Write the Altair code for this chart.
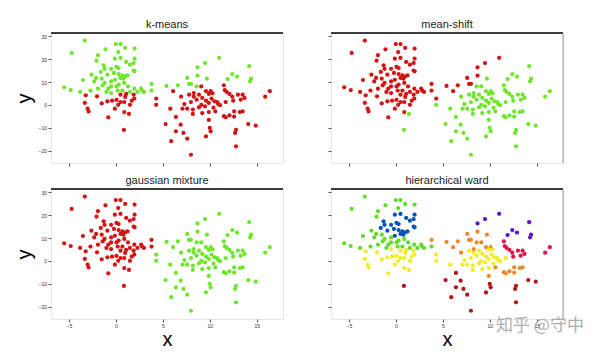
import altair as alt
import pandas as pd

# ---- points of the left blob ----
left_x = [-3.3, -4.7, 0.0, 0.5, 1.0, 2.0, -1.1, 0.25, -1.9, -2.05,
          -0.1, 0.5, 1.1, 2.0, 1.9, -1.3, -1.2, -0.5, 0.07, 0.3,
          1.5, 1.9, 2.0, -1.6, -0.9, -0.2, 0.3, 0.7, 1.0, 1.25,
          0.8, 0.5, -2.6, -2.1, -3.5, -2.3, -1.5, -1.2, -0.5, -0.1,
          0.3, 0.9, 1.3, 1.97, 2.3, 2.7, 2.8, 3.0, 3.8, 3.8,
          -5.5, -4.8, -3.8, -2.7, -1.9, -1.4, -1.0, -0.5, 0.2, 0.5,
          0.7, 1.1, 1.5, 1.9, -3.2, -2.0, -1.5, -0.9, -0.4, 0.07,
          0.5, 0.9, 1.7, 1.97, 1.5, -0.1, 0.25, -3.3, -3.0, -2.9,
          0.9, 1.4, -0.8, 0.86, 0.07, -0.5, -0.8, 1.0]
left_y = [28.1, 22.7, 26.6, 26.6, 24.9, 24.6, 24.3, 23.1, 21.7, 19.3,
          20.2, 20.5, 18.8, 20.2, 18.3, 17.3, 15.8, 15.8, 16.6, 16.1,
          17.6, 15.0, 14.7, 14.4, 13.2, 14.0, 13.5, 12.9, 12.5, 12.9,
          11.5, 11.8, 13.2, 11.8, 10.9, 10.3, 11.5, 9.6, 10.3, 11.0,
          8.9, 9.6, 8.1, 7.1, 5.7, 7.1, 6.3, 5.7, 9.2, 6.3,
          7.7, 6.5, 5.7, 6.3, 7.1, 8.6, 5.7, 5.2, 6.3, 4.5,
          6.3, 4.8, 5.7, 4.5, 4.2, 3.8, 0.7, 1.6, 1.9, 2.2,
          1.3, 1.3, 1.9, 2.8, 0.1, -1.6, 0.1, 0.9, -1.6, -2.8,
          -3.1, -3.9, -5.4, -10.9, 8.1, 8.1, 7.1, 3.5]

# ---- points of the right blob ----
right_x = [11.0, 9.5, 8.7, 14.2, 14.4, 14.3, 7.6, 7.8, 8.0, 8.7,
           9.7, 12.4, 12.9, 11.5, 11.9, 5.4, 6.6, 6.1, 8.6, 9.1,
           9.6, 10.1, 9.9, 10.3, 11.6, 11.8, 12.1, 12.4, 13.0, 13.5,
           13.7, 13.3, 12.5, 16.4, 15.9, 4.3, 4.3, 5.8, 6.95, 8.0,
           8.3, 8.6, 8.85, 9.2, 9.6, 9.9, 10.2, 10.5, 10.9, 11.1,
           10.8, 8.85, 8.2, 7.1, 7.6, 8.2, 9.2, 9.9, 10.6, 9.9,
           11.5, 12.1, 12.6, 13.2, 13.5, 12.6, 5.3, 6.9, 6.4, 7.2,
           7.6, 5.9, 10.0, 10.1, 9.6, 12.8, 12.7, 14.1, 14.9, 12.8,
           8.0, 7.3, 7.8, 9.1, 11.7, 6.4, 11.7, 8.3, 9.5, 10.4]
right_y = [20.6, 18.3, 16.4, 16.9, 11.5, 10.3, 11.8, 9.2, 9.2, 12.8,
           11.5, 13.5, 12.4, 8.6, 11.3, 8.3, 8.6, 6.0, 8.1, 8.1,
           6.0, 6.0, 4.8, 5.1, 6.5, 5.7, 4.8, 3.6, 4.5, 4.5,
           3.1, 2.3, 1.9, 6.0, 3.6, 2.8, 0.1, -1.6, 3.6, 1.3,
           3.6, 2.3, 4.5, 3.1, 1.9, 0.9, 2.8, 1.6, 0.4, -0.1,
           1.3, -1.0, -2.0, -1.6, -1.6, -3.9, -3.5, -3.1, -2.8, -6.5,
           -4.9, -4.5, -5.1, -3.1, -2.8, -2.8, -8.3, -8.6, -11.5, -12.2,
           -14.7, -15.8, -10.0, -11.5, -13.7, -10.8, -12.2, -8.3, -9.0, -18.0,
           -21.7, 0.4, 4.5, 0.1, 1.3, -5.2, -5.4, 5.2, -0.6, -1.2]

# ---- cluster labels per method (one character per point) ----
kmeans_left = ("GGGGGGGGGG" "GGGGGGGGGG" "GGGGGGGGGG" "GGGGGGGGGG" "GGGGGGGGGG"
               "GGGGGGGGGR" "GRGRRRRRRR" "RRRRRRRRRR" "RRRRGGGR")
kmeans_right = ("GGGGGGGGGG" "GGGRGGGRGR" "RRRRRRRRRR" "RRRRRRRRRR" "RRRRRRRRRR"
                "RRRRRRRRRR" "RRRRRRRRRR" "RRRRRRRRRR" "RRRRRRRRRR")
meanshift_left = ("RRRRRRRRRR" "RRRRRRRRRR" "RRRRRRRRRR" "RRRRRRRRRR" "RRRRRRRRRR"
                  "RRRRRRRRRR" "RRRRRRRRRR" "RRRRRRRRRR" "RGRGRRRR")
meanshift_right = ("RRRGGGRRRR" "GGGGGRRRGG" "GGGGGGGGGG" "GGGGGRGGGG" "GGGGGGGGGG"
                   "GGGGGGGGGG" "GGGGGGGGGG" "GGGGGGGGGG" "GGGGGGGGGG")
gmm_left = "R" * len(left_x)
gmm_right = "G" * len(right_x)
ward_left = ("gggggggggg" "bbbbbbbbbb" "bbbbbbbbbb" "bbgggggggb" "ggggggggog"
             "gggggggygy" "gygyyyyyyy" "yyyyyyyyyy" "yyydgggy")
ward_right = ("ppppppoooo" "oppcpooooo" "ooyycccccc" "cccccyyyoy" "yyyyyyyyyy"
              "yyyyyyyyoo" "oooooodddd" "dddddddddd" "dyyyydooyy")

titles = ["k-means", "mean-shift", "gaussian mixture", "hierarchical ward"]
x_ticks = [-5, 0, 5, 10, 15]
y_ticks = [-20, -10, 0, 10, 20, 30]
watermark = "知乎 @守中"

label_keys = ["R", "G", "g", "b", "y", "o", "d", "c", "p"]
label_colors = ["#d21414", "#6fe62c", "#62dc2a", "#0b54b4", "#f0ec28",
                "#ec8a28", "#b51418", "#dc1646", "#5a18c0"]

n_left, n_right = len(left_x), len(right_x)
for s in (kmeans_left, meanshift_left, gmm_left, ward_left):
    assert len(s) == n_left, len(s)
for s in (kmeans_right, meanshift_right, gmm_right, ward_right):
    assert len(s) == n_right, len(s)

df = pd.DataFrame({
    "x": left_x + right_x,
    "y": left_y + right_y,
    "kmeans": list(kmeans_left + kmeans_right),
    "meanshift": list(meanshift_left + meanshift_right),
    "gmm": list(gmm_left + gmm_right),
    "ward": list(ward_left + ward_right),
})

W, H = 232, 130
one = pd.DataFrame({"a": [0]})


def panel(field, title, show_xlab, show_ylab, right_border, mark=False):
    xs = alt.Scale(domain=[-6.9, 17.8], nice=False, zero=False)
    ys = alt.Scale(domain=[-25.3, 31.4], nice=False, zero=False)
    xax = alt.Axis(values=x_ticks, labels=show_xlab, title="x" if show_xlab else "",
                   titlePadding=1)
    yax = alt.Axis(values=y_ticks, labels=show_ylab, title="y" if show_ylab else "",
                   titlePadding=4)
    pts = alt.Chart(df).mark_circle(size=18, opacity=1).encode(
        x=alt.X("x:Q", scale=xs, axis=xax),
        y=alt.Y("y:Q", scale=ys, axis=yax),
        color=alt.Color(f"{field}:N", legend=None,
                        scale=alt.Scale(domain=label_keys, range=label_colors)),
    )
    top = alt.Chart(one).mark_rule(color="black", strokeWidth=1.5).encode(
        x=alt.value(0), x2=alt.value(W), y=alt.value(0))
    layers = [pts, top]
    if right_border:
        layers.append(alt.Chart(one).mark_rule(color="#999999", strokeWidth=1).encode(
            x=alt.value(W), y=alt.value(0), y2=alt.value(H)))
    if mark:
        layers.append(alt.Chart(pd.DataFrame({"t": [watermark]})).mark_text(
            font="Noto Sans CJK SC", fontSize=17, color="#9a9a9a", opacity=0.8,
            align="center", baseline="middle").encode(
            text="t:N", x=alt.value(209), y=alt.value(137)))
    return alt.layer(*layers).properties(
        width=W, height=H,
        title=alt.TitleParams(title, fontSize=11, font="Liberation Sans",
                              fontWeight="normal", color="#222222", offset=2),
    )


tl = panel("kmeans", titles[0], False, True, False)
tr = panel("meanshift", titles[1], False, False, True)
bl = panel("gmm", titles[2], True, True, False)
br = panel("ward", titles[3], True, False, True, mark=True)

chart = alt.vconcat(
    alt.hconcat(tl, tr, spacing=42),
    alt.hconcat(bl, br, spacing=42),
    spacing=7,
).properties(
    padding={"left": 5, "top": 10, "right": 0, "bottom": 0}
).configure_view(
    stroke="#e6e6e6"
).configure_axis(
    grid=False, domain=False, tickColor="#555555", tickSize=3,
    labelFontSize=5, labelColor="#333333", labelPadding=1.5, labelFont="Liberation Sans",
    titleFont="Liberation Sans", titleFontSize=20, titleFontWeight="normal",
    titleColor="black",
)

chart.save("out.html", embed_options={"renderer": "svg", "actions": False})
